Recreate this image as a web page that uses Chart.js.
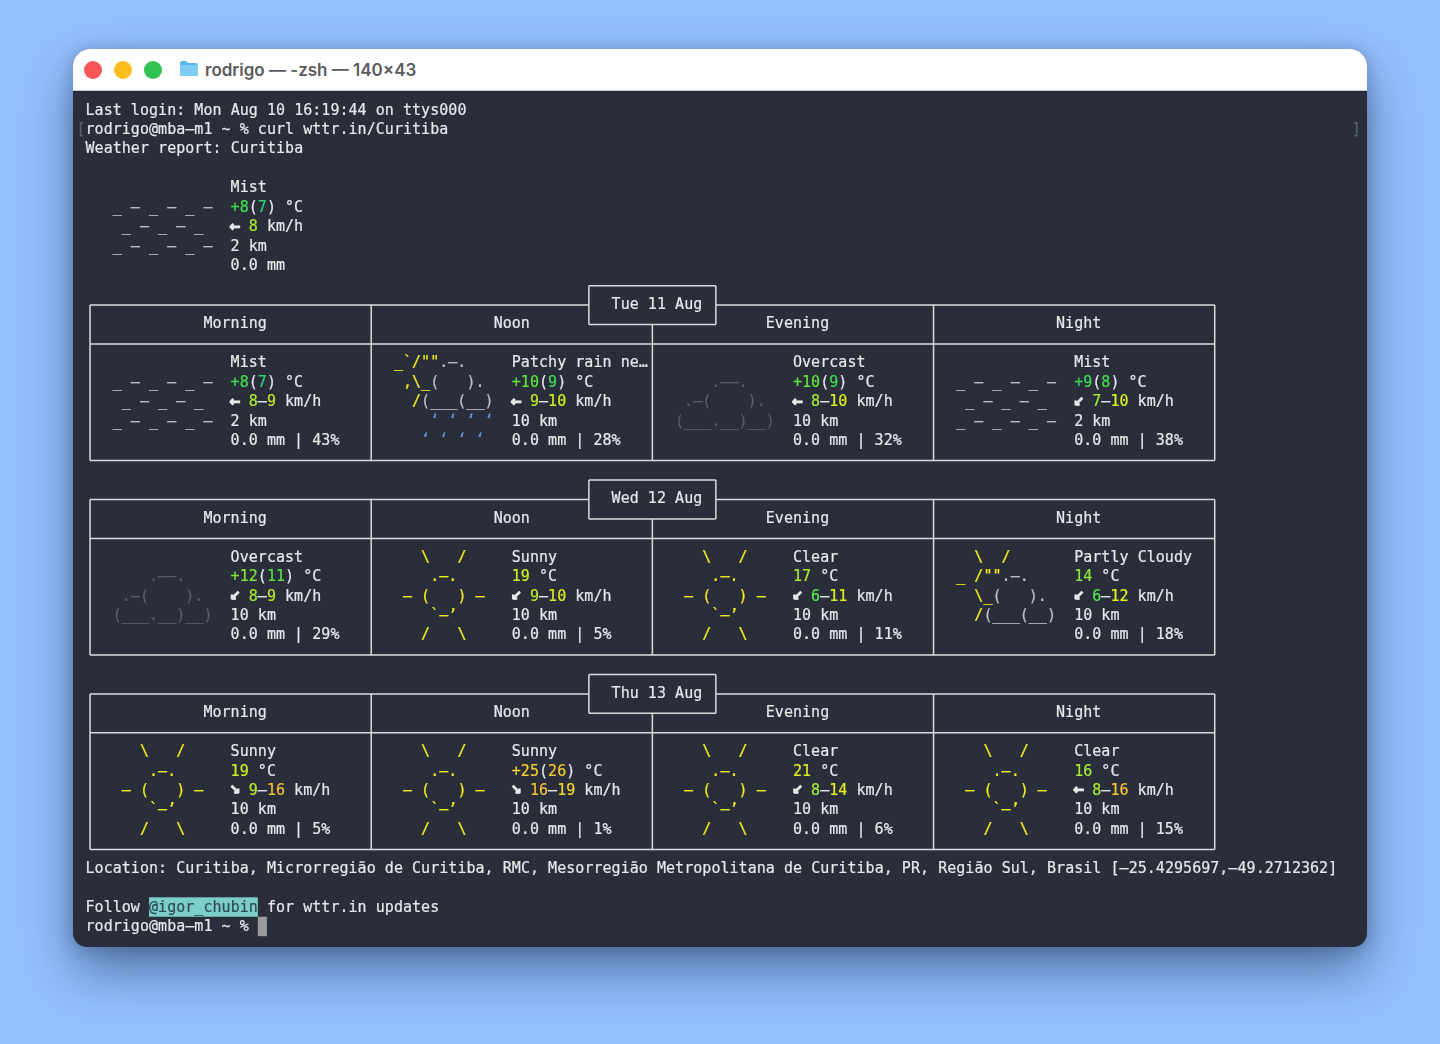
<!DOCTYPE html>
<html>
<head>
<meta charset="utf-8">
<title>rodrigo — -zsh — 140×43</title>
<script src="https://cdn.jsdelivr.net/npm/chart.js@4"></script>
<style>
html,body{margin:0;padding:0;width:1440px;height:1044px;overflow:hidden;background:#94c2fe}
#win{position:absolute;left:73px;top:49px;width:1294px;height:898px;border-radius:17px 17px 14px 14px;background:#292e3a;
 box-shadow:0 24px 52px rgba(15,35,75,.5),0 2px 16px rgba(15,35,75,.25)}
#bar{position:absolute;left:0;top:0;width:1294px;height:41px;background:#fff;border-radius:17px 17px 0 0;border-bottom:1.5px solid #c6c8cb;box-sizing:content-box}
.dot{position:absolute;top:12px;width:18px;height:18px;border-radius:50%}
#ttl{position:absolute;left:132px;top:10px;font:600 17px/23px Inter,"Noto Sans",sans-serif;color:#5b5b5b;white-space:nowrap}
#ico{position:absolute;left:106px;top:11px}
#c{position:absolute;left:0;top:42.5px;border-radius:0 0 14px 14px}
</style>
</head>
<body>
<div id="win">
 <div id="bar">
  <div class="dot" style="left:11px;background:#f9565a"></div>
  <div class="dot" style="left:41px;background:#fdbc1e"></div>
  <div class="dot" style="left:71px;background:#2fc350"></div>
  <svg id="ico" width="20" height="17" viewBox="0 0 20 17"><path d="M1 3q0-2 2-2h4l2 2h8q2 0 2 2v9q0 2-2 2H3q-2 0-2-2z" fill="#57b7ee"/><path d="M1 5h18v9q0 2-2 2H3q-2 0-2-2z" fill="#7fcdf5"/></svg>
  <div id="ttl">rodrigo — -zsh — 140×43</div>
 </div>
 <canvas id="c" width="1294" height="855"></canvas>
</div>
<script>
// ---------- terminal text ----------
const sessionLines = [
  [0, "Last login: Mon Aug 10 16:19:44 on ttys000"],
  [1, "rodrigo@mba-m1 ~ % curl wttr.in/Curitiba"],
  [2, "Weather report: Curitiba"],
  [39, "Location: Curitiba, Microrregião de Curitiba, RMC, Mesorregião Metropolitana de Curitiba, PR, Região Sul, Brasil [-25.4295697,-49.2712362]"],
  [41, "Follow "],
  [41, "                    for wttr.in updates"],
  [42, "rodrigo@mba-m1 ~ %"]
];
const handle = "@igor_chubin";

// ---------- forecast values ----------
const days = ["Tue 11 Aug", "Wed 12 Aug", "Thu 13 Aug"];
const periods = ["Morning", "Noon", "Evening", "Night"];
const conditions = [
  "Mist", "Patchy rain ne…", "Overcast", "Mist",
  "Overcast", "Sunny", "Clear", "Partly Cloudy",
  "Sunny", "Sunny", "Clear", "Clear"
];
const temps = ["+8", "+10", "+10", "+9", "+12", "19", "17", "14", "19", "+25", "21", "16"];
const feels = [7, 9, 9, 8, 11, null, null, null, null, 26, null, null];
const windDirs = ["←", "←", "←", "↙", "↙", "↙", "↙", "↙", "↘", "↘", "↙", "←"];
const windLow = [8, 9, 8, 7, 8, 9, 6, 6, 9, 16, 8, 8];
const windHigh = [9, 10, 10, 10, 9, 10, 11, 12, 16, 19, 14, 16];
const visibility = [2, 10, 10, 2, 10, 10, 10, 10, 10, 10, 10, 10];
const precipitation = ["0.0", "0.0", "0.0", "0.0", "0.0", "0.0", "0.0", "0.0", "0.0", "0.0", "0.0", "0.0"];
const chance = [43, 28, 32, 38, 29, 5, 11, 18, 5, 1, 6, 15];

// current conditions
const nowCondition = "Mist", nowTemp = "+8", nowFeels = 7, nowDir = "←", nowWind = 8, nowVis = 2, nowPrecip = "0.0";

// ---------- colours ----------
const WHITE = "#e6e8ec", SUN = "#f0ee1c", CLOUD = "#bfc1c5", DARK = "#5a5e67", RAIN = "#6d8fe6", LINE = "#d9dbde";
const tempShades = [[7,"#2fd078"],[8,"#3fe04a"],[9,"#3ddc55"],[10,"#5ee83a"],[11,"#5ce040"],[12,"#7de834"],[14,"#8fe83c"],[16,"#a8ee30"],[17,"#b0ee30"],[19,"#cdf01f"],[21,"#e2ee20"],[25,"#f6d233"],[26,"#f6c92f"]];
const windShades = [[6,"#55e84e"],[7,"#a4e835"],[8,"#a8e835"],[9,"#bfe926"],[10,"#dcef1e"],[11,"#dcef1e"],[12,"#e4ef1e"],[14,"#e6ee20"],[16,"#f6c234"],[19,"#f6d82c"]];
const shade = (table, v) => { const n = Math.abs(parseInt(v)); return (table.find(t => t[0] === n) || [0, WHITE])[1]; };

// ---------- ascii art, [text, colour] runs per line, first line sits on row 0 of a cell ----------
const mist = [[], [[" _ - _ - _ - ", CLOUD]], [["  _ - _ - _  ", CLOUD]], [[" _ - _ - _ - ", CLOUD]], []];
const overcast = [[], [["     .--.    ", DARK]], [["  .-(    ).  ", DARK]], [[" (___.__)__) ", DARK]], []];
const sunny = [
  [["    \\   /    ", SUN]],
  [["     .-.     ", SUN]],
  [["  ― (   ) ―  ", SUN]],
  [["     `-’     ", SUN]],
  [["    /   \\    ", SUN]]
];
const partly = [
  [["   \\  /      ", SUN]],
  [[" _ /\"\"", SUN], [".-.    ", CLOUD]],
  [["   \\_", SUN], ["(   ).   ", CLOUD]],
  [["   /", SUN], ["(___(__)  ", CLOUD]],
  []
];
const patchy = [
  [[" _`/\"\"", SUN], [".-.    ", CLOUD]],
  [["  ,\\_", SUN], ["(   ).  ", CLOUD]],
  [["   /", SUN], ["(___(__) ", CLOUD]],
  [["     ʻ ʻ ʻ ʻ ", RAIN]],
  [["    ʻ ʻ ʻ ʻ  ", RAIN]]
];
const artFor = { "Mist": mist, "Overcast": overcast, "Sunny": sunny, "Clear": sunny, "Partly Cloudy": partly, "Patchy rain ne…": patchy };

// ---------- layout in terminal cells ----------
const tableRows = [10, 20, 30];
const borderCols = [0, 31, 62, 93, 124];
const headerCols = [13, 45, 75, 107];
const boxLeft = 55, boxRight = 69, boxMid = 62, boxText = 58, tableEnd = 124;

const runs = [];
const put = (row, col, text, color, arrow) => runs.push({ row, col, text, color: color || WHITE, arrow: !!arrow });
const putLine = (row, col, parts) => { let c = col; parts.forEach(p => { put(row, c, p[0], p[1], p[2]); c += [...p[0]].length; }); };

sessionLines.forEach(l => put(l[0], 0, l[1]));
put(1, -1, "[", "#596170");
put(1, 139.6, "]", "#596170");
put(41, 7, handle, "#2f4a55");

function cellBlock(row, baseCol, textCol, cond, t, f, dir, lo, hi, vis, prec, pct) {
  artFor[cond].forEach((line, i) => putLine(row + i, baseCol, line));
  put(row, textCol, cond);
  const tp = [[String(t), shade(tempShades, t)]];
  if (f !== null) tp.push(["(", WHITE], [String(f), shade(tempShades, f)], [")", WHITE]);
  tp.push([" °C", WHITE]);
  putLine(row + 1, textCol, tp);
  const wp = [[dir, WHITE, true], [" ", WHITE], [String(lo), shade(windShades, lo)]];
  if (hi !== null) wp.push(["-", WHITE], [String(hi), shade(windShades, hi)]);
  wp.push([" km/h", WHITE]);
  putLine(row + 2, textCol, wp);
  put(row + 3, textCol, vis + " km");
  put(row + 4, textCol, prec + " mm" + (pct !== null ? " | " + pct + "%" : ""));
}

cellBlock(4, 2, 16, nowCondition, nowTemp, nowFeels, nowDir, nowWind, null, nowVis, nowPrecip, null);

const cellTextCols = [16, 47, 78, 109], cellArtCols = [2, 33, 64, 95];
tableRows.forEach((R, d) => {
  put(R, boxText, days[d]);
  periods.forEach((p, i) => put(R + 1, headerCols[i], p));
  periods.forEach((p, i) => {
    const k = d * 4 + i;
    cellBlock(R + 3, cellArtCols[i], cellTextCols[i], conditions[k], temps[k], feels[k], windDirs[k], windLow[k], windHigh[k], visibility[k], precipitation[k], chance[k]);
  });
});

// table rules as a line series on the cell scales
const gap = { x: NaN, y: NaN };
const rulePoints = [];
const seg = (x1, y1, x2, y2) => rulePoints.push({ x: x1 + .5, y: y1 }, { x: x2 + .5, y: y2 }, gap);
tableRows.forEach(R => {
  seg(0, R, boxLeft, R); seg(boxRight, R, tableEnd, R);
  seg(0, R + 2, tableEnd, R + 2); seg(0, R + 8, tableEnd, R + 8);
  borderCols.forEach(c => seg(c, c === boxMid ? R + 1 : R, c, R + 8));
  seg(boxLeft, R - 1, boxRight, R - 1); seg(boxLeft, R + 1, boxRight, R + 1);
  seg(boxLeft, R - 1, boxLeft, R + 1); seg(boxRight, R - 1, boxRight, R + 1);
});

const CELL_W = 9.07, FONT_PX = 15, ROW_H = 19.44, ROW0 = 110.7;
const terminalText = {
  id: "terminalText",
  beforeDatasetsDraw(chart) {
    const { ctx, scales: { x, y } } = chart;
    const left = c => x.getPixelForValue(c), mid = r => y.getPixelForValue(r) - 0.7;
    ctx.save();
    ctx.fillStyle = "#7ccfc9";
    ctx.fillRect(left(7), mid(41) - ROW_H / 2, left(19) - left(7), ROW_H);
    ctx.fillStyle = "#9b9b9b";
    ctx.fillRect(left(19), mid(42) - ROW_H / 2, left(20) - left(19), ROW_H);
    ctx.restore();
  },
  afterDatasetsDraw(chart) {
    const { ctx, scales: { x, y } } = chart;
    ctx.save();
    ctx.textBaseline = "middle";
    ctx.textAlign = "left";
    runs.forEach(r => {
      const px = x.getPixelForValue(r.col), py = y.getPixelForValue(r.row);
      ctx.fillStyle = ctx.strokeStyle = r.color;
      if (r.arrow) {
        ctx.font = 'bold 13px "DejaVu Sans", sans-serif';
        ctx.letterSpacing = "0px";
        ctx.lineWidth = 1.1;
        ctx.fillText(r.text, px - 1, py);
        ctx.strokeText(r.text, px - 1, py);
        return;
      }
      ctx.font = FONT_PX + 'px "DejaVu Sans Mono", monospace';
      ctx.letterSpacing = (CELL_W - 0.602 * FONT_PX).toFixed(3) + "px";
      ctx.lineWidth = 0.2;
      const shown = r.text.replace(/-/g, "–");
      ctx.fillText(shown, px, py);
      ctx.strokeText(shown, px, py);
    });
    ctx.restore();
  }
};

new Chart(document.getElementById("c"), {
  type: "line",
  data: { datasets: [{ label: "table rules", data: rulePoints, borderColor: LINE, borderWidth: 1.5, pointRadius: 0, spanGaps: false, tension: 0 }] },
  options: {
    responsive: false, animation: false, devicePixelRatio: 1,
    layout: { padding: 0 },
    plugins: { legend: { display: false }, tooltip: { enabled: false } },
    scales: {
      x: { type: "linear", display: false, min: (73 - 85.5) / CELL_W, max: (1367 - 85.5) / CELL_W },
      y: { type: "linear", display: false, reverse: true, min: (92 - ROW0) / ROW_H, max: (947 - ROW0) / ROW_H }
    }
  },
  plugins: [terminalText]
});
</script>
</body>
</html>
